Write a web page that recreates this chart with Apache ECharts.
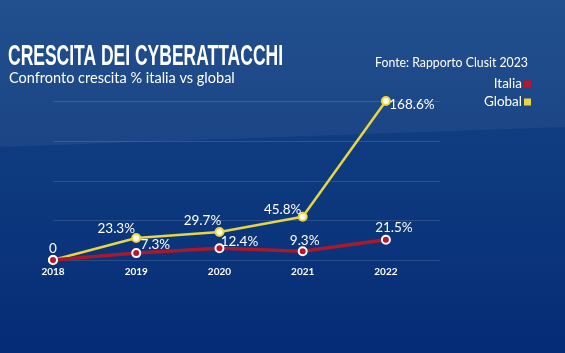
<!DOCTYPE html>
<html>
<head>
<meta charset="utf-8">
<script src="https://cdn.jsdelivr.net/npm/echarts@6/dist/echarts.min.js"></script>
<style>
  html, body { margin: 0; padding: 0; }
  #chart { width: 565px; height: 353px; }
</style>
</head>
<body>
<div id="chart"></div>
<script>
// data
var years = [2018, 2019, 2020, 2021, 2022]
var italia = [0, 7.3, 12.4, 9.3, 21.5]
var global = [0, 23.3, 29.7, 45.8, 168.6]
var seriesNames = ['Italia', 'Global']

var titleText = 'CRESCITA DEI CYBERATTACCHI'
var subText = 'Confronto crescita % italia vs global'
var sourceText = 'Fonte: Rapporto Clusit 2023'

// label offsets (px from each point)
var italiaOffsets = [null, [19, -8], [20, -7], [2, -11], [8, -12]]
var globalOffsets = [[0, -11], [-20, -9], [-17, -11], [-20, -7], [26, 4]]

var font = 'Lato, Open Sans, sans-serif'
var titleFont = 'bold 29px "Liberation Sans", Arial, sans-serif'
var sourceFont = '14px Lato, sans-serif'
var red = '#b8162b'
var yellow = '#e8d544'

// squeeze wide fonts to the condensed width seen in the picture
function fitScale(txt, f, target) {
  var ctx = document.createElement('canvas').getContext('2d')
  ctx.font = f
  return target / ctx.measureText(txt).width
}

function buildData(values, offsets) {
  return values.map(function(v, i) {
    var item = { value: [years[i], v] }
    if (offsets[i]) {
      item.label = { show: true, position: 'inside', offset: offsets[i] }
    } else {
      item.label = { show: false }
    }
    return item
  })
}

function fmtLabel(p) {
  var v = p.value[1]
  return v === 0 ? '0' : v + '%'
}

var chart = echarts.init(document.getElementById('chart'))
chart.setOption({
  animation: false,
  backgroundColor: {
    type: 'linear', x: 0, y: 0, x2: 0, y2: 1,
    colorStops: [
      { offset: 0, color: '#164787' },
      { offset: 1, color: '#052c76' }
    ]
  },
  graphic: [
    {
      type: 'polygon',
      silent: true,
      z: -1,
      shape: { points: [[0, 0], [565, 0], [565, 127], [0, 147]] },
      style: { fill: 'rgba(255,255,255,0.05)' }
    },
    {
      type: 'text',
      x: 8,
      y: 57,
      scaleX: fitScale(titleText, titleFont, 275),
      style: {
        text: titleText,
        font: titleFont,
        fill: '#fff',
        verticalAlign: 'middle'
      }
    },
    {
      type: 'text',
      x: 9,
      y: 78.5,
      style: {
        text: subText,
        font: '14.5px Lato, sans-serif',
        fill: '#fff',
        verticalAlign: 'middle'
      }
    },
    {
      type: 'text',
      x: 528,
      y: 62,
      scaleX: fitScale(sourceText, sourceFont, 153),
      style: {
        text: sourceText,
        font: sourceFont,
        fill: '#fff',
        align: 'right',
        verticalAlign: 'middle'
      }
    }
  ],
  legend: {
    data: [
      { name: 'Italia', itemStyle: { color: red, borderWidth: 0 } },
      { name: 'Global', itemStyle: { color: yellow, borderWidth: 0 } }
    ],
    orient: 'vertical',
    right: 29,
    top: 72,
    align: 'right',
    itemWidth: 7,
    itemHeight: 7,
    itemGap: 4,
    icon: 'rect',
    textStyle: { color: '#fff', fontSize: 13.5, fontFamily: font, padding: [0, -3, 0, 0] }
  },
  grid: {
    left: 53,
    right: 125,
    top: 101.6,
    bottom: 93
  },
  xAxis: {
    type: 'value',
    min: 2018,
    max: 2022.65,
    interval: 1,
    axisLine: { show: false },
    axisTick: { show: false },
    splitLine: { show: false },
    axisLabel: {
      color: '#fff',
      fontSize: 10,
      fontWeight: 'bold',
      fontFamily: 'Lato, sans-serif',
      margin: 7,
      formatter: function(v) {
        return Number.isInteger(v) ? String(v) : ''
      }
    }
  },
  yAxis: {
    type: 'value',
    min: 0,
    max: 168,
    interval: 42,
    axisLabel: { show: false },
    axisLine: { show: false },
    axisTick: { show: false },
    splitLine: { lineStyle: { color: 'rgba(255,255,255,0.13)', width: 1 } }
  },
  series: [
    {
      name: 'Global',
      type: 'line',
      clip: false,
      data: buildData(global, globalOffsets),
      symbol: 'circle',
      symbolSize: 8,
      color: yellow,
      lineStyle: { color: yellow, width: 2.5 },
      itemStyle: { color: '#fffbe6', borderColor: yellow, borderWidth: 2 },
      label: { color: '#fff', fontSize: 13.5, fontFamily: font, formatter: fmtLabel },
      z: 2
    },
    {
      name: 'Italia',
      type: 'line',
      clip: false,
      data: buildData(italia, italiaOffsets),
      symbol: 'circle',
      symbolSize: 8,
      color: red,
      lineStyle: { color: '#a8192c', width: 3.5 },
      itemStyle: { color: red, borderColor: '#fff', borderWidth: 2 },
      label: { color: '#fff', fontSize: 13.5, fontFamily: font, formatter: fmtLabel },
      z: 3
    }
  ]
})
</script>
</body>
</html>
